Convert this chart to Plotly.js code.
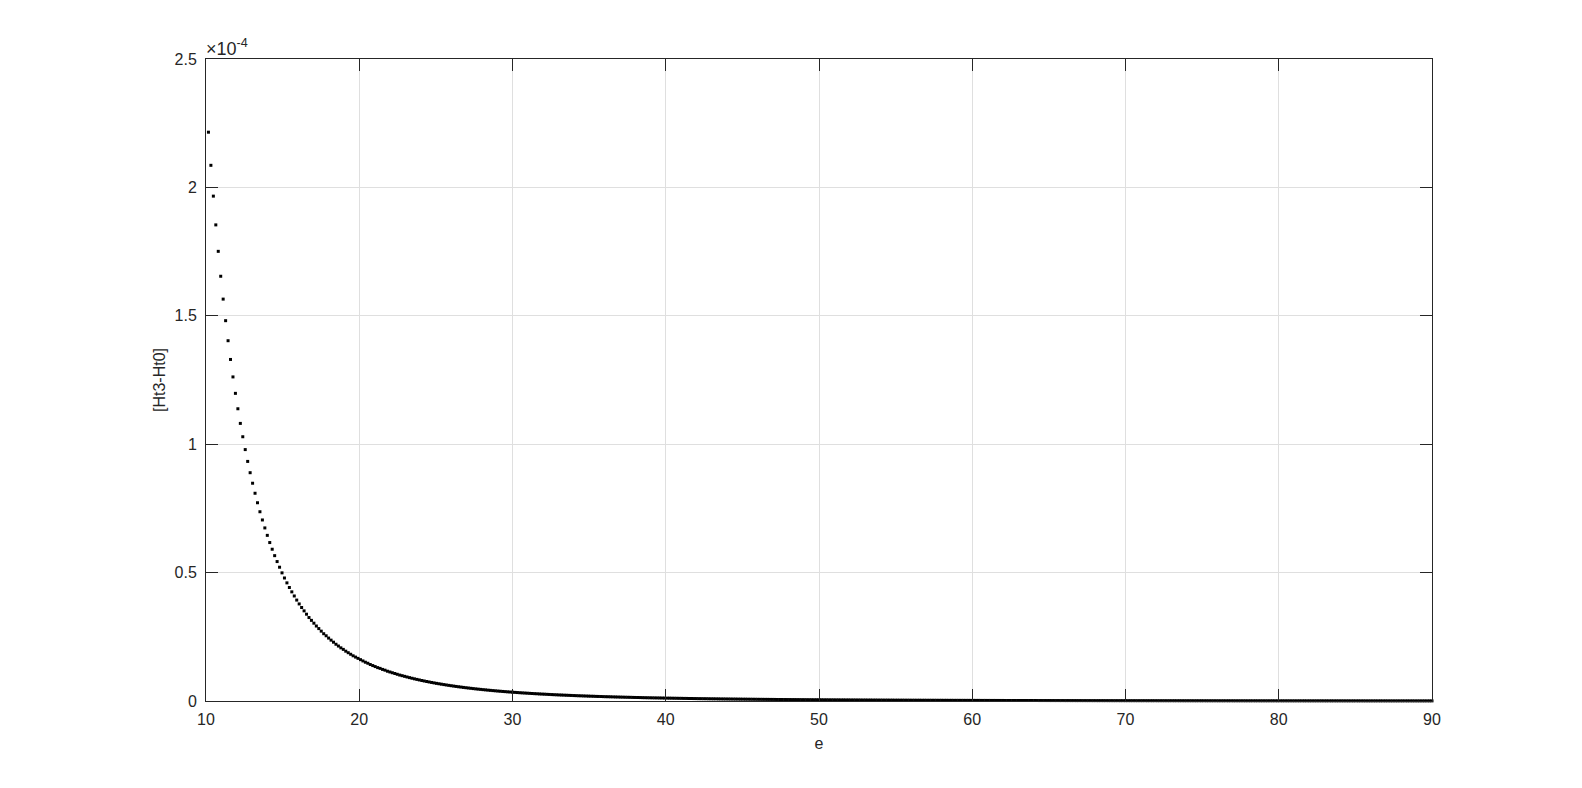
<!DOCTYPE html>
<html>
<head>
<meta charset="utf-8">
<script src="https://cdn.plot.ly/plotly-3.0.1.min.js"></script>
<style>
html,body{margin:0;padding:0;background:#fff;}
#chart{width:1582px;height:788px;}
</style>
</head>
<body>
<div id="chart"></div>
<script>
// e values (x)
var eValues = [
10.16,10.32,10.48,10.64,10.8,10.96,11.12,11.28,11.44,11.6,11.76,11.92,12.08,12.24,12.4,12.56,12.72,12.88,13.04,13.2,13.36,13.52,13.68,13.84,14,
14.16,14.32,14.48,14.64,14.8,14.96,15.12,15.28,15.44,15.6,15.76,15.92,16.08,16.24,16.4,16.56,16.72,16.88,17.04,17.2,17.36,17.52,17.68,17.84,18,
18.16,18.32,18.48,18.64,18.8,18.96,19.12,19.28,19.44,19.6,19.76,19.92,20.08,20.24,20.4,20.56,20.72,20.88,21.04,21.2,21.36,21.52,21.68,21.84,22,
22.16,22.32,22.48,22.64,22.8,22.96,23.12,23.28,23.44,23.6,23.76,23.92,24.08,24.24,24.4,24.56,24.72,24.88,25.04,25.2,25.36,25.52,25.68,25.84,26,
26.16,26.32,26.48,26.64,26.8,26.96,27.12,27.28,27.44,27.6,27.76,27.92,28.08,28.24,28.4,28.56,28.72,28.88,29.04,29.2,29.36,29.52,29.68,29.84,30,
30.16,30.32,30.48,30.64,30.8,30.96,31.12,31.28,31.44,31.6,31.76,31.92,32.08,32.24,32.4,32.56,32.72,32.88,33.04,33.2,33.36,33.52,33.68,33.84,34,
34.16,34.32,34.48,34.64,34.8,34.96,35.12,35.28,35.44,35.6,35.76,35.92,36.08,36.24,36.4,36.56,36.72,36.88,37.04,37.2,37.36,37.52,37.68,37.84,38,
38.16,38.32,38.48,38.64,38.8,38.96,39.12,39.28,39.44,39.6,39.76,39.92,40.08,40.24,40.4,40.56,40.72,40.88,41.04,41.2,41.36,41.52,41.68,41.84,42,
42.16,42.32,42.48,42.64,42.8,42.96,43.12,43.28,43.44,43.6,43.76,43.92,44.08,44.24,44.4,44.56,44.72,44.88,45.04,45.2,45.36,45.52,45.68,45.84,46,
46.16,46.32,46.48,46.64,46.8,46.96,47.12,47.28,47.44,47.6,47.76,47.92,48.08,48.24,48.4,48.56,48.72,48.88,49.04,49.2,49.36,49.52,49.68,49.84,50,
50.16,50.32,50.48,50.64,50.8,50.96,51.12,51.28,51.44,51.6,51.76,51.92,52.08,52.24,52.4,52.56,52.72,52.88,53.04,53.2,53.36,53.52,53.68,53.84,54,
54.16,54.32,54.48,54.64,54.8,54.96,55.12,55.28,55.44,55.6,55.76,55.92,56.08,56.24,56.4,56.56,56.72,56.88,57.04,57.2,57.36,57.52,57.68,57.84,58,
58.16,58.32,58.48,58.64,58.8,58.96,59.12,59.28,59.44,59.6,59.76,59.92,60.08,60.24,60.4,60.56,60.72,60.88,61.04,61.2,61.36,61.52,61.68,61.84,62,
62.16,62.32,62.48,62.64,62.8,62.96,63.12,63.28,63.44,63.6,63.76,63.92,64.08,64.24,64.4,64.56,64.72,64.88,65.04,65.2,65.36,65.52,65.68,65.84,66,
66.16,66.32,66.48,66.64,66.8,66.96,67.12,67.28,67.44,67.6,67.76,67.92,68.08,68.24,68.4,68.56,68.72,68.88,69.04,69.2,69.36,69.52,69.68,69.84,70,
70.16,70.32,70.48,70.64,70.8,70.96,71.12,71.28,71.44,71.6,71.76,71.92,72.08,72.24,72.4,72.56,72.72,72.88,73.04,73.2,73.36,73.52,73.68,73.84,74,
74.16,74.32,74.48,74.64,74.8,74.96,75.12,75.28,75.44,75.6,75.76,75.92,76.08,76.24,76.4,76.56,76.72,76.88,77.04,77.2,77.36,77.52,77.68,77.84,78,
78.16,78.32,78.48,78.64,78.8,78.96,79.12,79.28,79.44,79.6,79.76,79.92,80.08,80.24,80.4,80.56,80.72,80.88,81.04,81.2,81.36,81.52,81.68,81.84,82,
82.16,82.32,82.48,82.64,82.8,82.96,83.12,83.28,83.44,83.6,83.76,83.92,84.08,84.24,84.4,84.56,84.72,84.88,85.04,85.2,85.36,85.52,85.68,85.84,86,
86.16,86.32,86.48,86.64,86.8,86.96,87.12,87.28,87.44,87.6,87.76,87.92,88.08,88.24,88.4,88.56,88.72,88.88,89.04,89.2,89.36,89.52,89.68,89.84,90
];

// [Ht3-Ht0] values, in units of 1e-4
var htDiff = [
2.215,2.086,1.966,1.854,1.751,1.654,1.565,1.481,1.403,1.330,1.262,1.198,1.138,1.081,1.029,0.979,0.933,0.889,0.848,0.809,0.772,0.737,0.705,0.674,0.645,
0.617,0.591,0.566,0.543,0.521,0.499,0.479,0.460,0.442,0.425,0.409,0.393,0.378,0.364,0.351,0.338,0.325,0.314,0.303,0.292,0.282,0.272,0.262,0.254,0.245,
0.237,0.229,0.221,0.214,0.207,0.201,0.194,0.188,0.182,0.176,0.171,0.166,0.161,0.156,0.151,0.147,0.142,0.138,0.134,0.130,0.127,0.123,0.120,0.116,0.113,
0.110,0.107,0.104,0.101,0.0986,0.0960,0.0935,0.0910,0.0886,0.0863,0.0841,0.0820,0.0799,0.0779,0.0759,0.0741,0.0722,0.0705,0.0687,0.0671,0.0655,0.0639,0.0624,0.0609,0.0595,
0.0581,0.0567,0.0554,0.0542,0.0529,0.0517,0.0506,0.0494,0.0483,0.0472,0.0462,0.0452,0.0442,0.0433,0.0423,0.0414,0.0405,0.0397,0.0388,0.0380,0.0372,0.0365,0.0357,0.0350,0.0343,
0.0336,0.0329,0.0322,0.0316,0.0310,0.0304,0.0298,0.0292,0.0286,0.0281,0.0275,0.0270,0.0265,0.0260,0.0255,0.0250,0.0245,0.0241,0.0236,0.0232,0.0228,0.0224,0.0220,0.0216,0.0212,
0.0208,0.0204,0.0201,0.0197,0.0194,0.0190,0.0187,0.0184,0.0180,0.0177,0.0174,0.0171,0.0168,0.0166,0.0163,0.0160,0.0157,0.0155,0.0152,0.0150,0.0147,0.0145,0.0143,0.0140,0.0138,
0.0136,0.0134,0.0131,0.0129,0.0127,0.0125,0.0123,0.0121,0.0120,0.0118,0.0116,0.0114,0.0112,0.0111,0.0109,0.0107,0.0106,0.0104,0.0103,0.0101,0.0100,0.0098,0.0097,0.0095,0.0094,
0.0092,0.0091,0.0090,0.0089,0.0087,0.0086,0.0085,0.0084,0.0082,0.0081,0.0080,0.0079,0.0078,0.0077,0.0076,0.0075,0.0074,0.0073,0.0072,0.0071,0.0070,0.0069,0.0068,0.0067,0.0066,
0.00652,0.00643,0.00635,0.00627,0.00619,0.00611,0.00603,0.00595,0.00587,0.00580,0.00572,0.00565,0.00558,0.00551,0.00544,0.00537,0.00530,0.00523,0.00517,0.00510,0.00504,0.00498,0.00491,0.00485,0.00479,
0.00474,0.00468,0.00462,0.00457,0.00451,0.00446,0.00440,0.00435,0.00430,0.00425,0.00420,0.00415,0.00410,0.00405,0.00400,0.00396,0.00391,0.00386,0.00382,0.00378,0.00373,0.00369,0.00365,0.00361,0.00356,
0.00352,0.00348,0.00345,0.00341,0.00337,0.00333,0.00329,0.00326,0.00322,0.00319,0.00315,0.00312,0.00308,0.00305,0.00302,0.00298,0.00295,0.00292,0.00289,0.00286,0.00283,0.00280,0.00277,0.00274,0.00271,
0.00268,0.00265,0.00262,0.00260,0.00257,0.00254,0.00252,0.00249,0.00246,0.00244,0.00241,0.00239,0.00236,0.00234,0.00232,0.00229,0.00227,0.00225,0.00222,0.00220,0.00218,0.00216,0.00214,0.00212,0.00210,
0.00207,0.00205,0.00203,0.00202,0.00200,0.00198,0.00196,0.00194,0.00192,0.00190,0.00188,0.00187,0.00185,0.00183,0.00181,0.00180,0.00178,0.00176,0.00175,0.00173,0.00171,0.00170,0.00168,0.00166,0.00165,
0.00163,0.00162,0.00160,0.00159,0.00157,0.00156,0.00155,0.00153,0.00152,0.00150,0.00149,0.00148,0.00146,0.00145,0.00144,0.00143,0.00141,0.00140,0.00139,0.00138,0.00136,0.00135,0.00134,0.00133,0.00131,
0.00130,0.00129,0.00128,0.00127,0.00126,0.00125,0.00124,0.00123,0.00122,0.00121,0.00120,0.00119,0.00118,0.00117,0.00116,0.00115,0.00114,0.00113,0.00112,0.00111,0.00110,0.00109,0.00108,0.00107,0.00106,
0.00105,0.00104,0.00103,0.00103,0.00102,0.00101,0.00100,0.00099,0.00099,0.00098,0.00097,0.00096,0.00095,0.00095,0.00094,0.00093,0.00092,0.00092,0.00091,0.00090,0.00090,0.00089,0.00088,0.00087,0.00087,
0.00086,0.00085,0.00085,0.00084,0.00083,0.00083,0.00082,0.00081,0.00081,0.00080,0.00080,0.00079,0.00078,0.00078,0.00077,0.00077,0.00076,0.00075,0.00075,0.00074,0.00074,0.00073,0.00073,0.00072,0.00072,
0.00071,0.00070,0.00070,0.00069,0.00069,0.00068,0.00068,0.00067,0.00067,0.00066,0.00066,0.00065,0.00065,0.00064,0.00064,0.00064,0.00063,0.00063,0.00062,0.00062,0.00061,0.00061,0.00060,0.00060,0.00059,
0.00059,0.00059,0.00058,0.00058,0.00057,0.00057,0.00057,0.00056,0.00056,0.00055,0.00055,0.00055,0.00054,0.00054,0.00054,0.00053,0.00053,0.00052,0.00052,0.00052,0.00051,0.00051,0.00051,0.00050,0.00050
];

var xTickVals = [10, 20, 30, 40, 50, 60, 70, 80, 90];
var yTickVals = [0, 0.5, 1, 1.5, 2, 2.5];
var yTickText = ['0', '0.5', '1', '1.5', '2', '2.5'];
var xLabel = 'e';
var yLabel = '[Ht3-Ht0]';
var exponentLabel = '\u00d710<sup>-4</sup>';

var axisColor = '#262626';
var gridColor = '#dfdfdf';
var fontFamily = 'Liberation Sans, Arial, Helvetica, sans-serif';

var trace = {
  x: eValues,
  y: htDiff,
  type: 'scatter',
  mode: 'markers',
  marker: {symbol: 'square', size: 3, color: '#000000', line: {width: 0}},
  cliponaxis: false,
  hoverinfo: 'x+y'
};

var commonAxis = {
  showline: true,
  linecolor: axisColor,
  linewidth: 1,
  mirror: 'ticks',
  ticks: 'inside',
  ticklen: 12,
  tickwidth: 1,
  tickcolor: axisColor,
  showgrid: true,
  gridcolor: gridColor,
  gridwidth: 1,
  zeroline: false,
  tickfont: {family: fontFamily, size: 16, color: axisColor},
  automargin: false
};

var layout = {
  width: 1582,
  height: 788,
  margin: {l: 206, r: 150, t: 59, b: 87, pad: 0},
  paper_bgcolor: '#ffffff',
  plot_bgcolor: '#ffffff',
  showlegend: false,
  font: {family: fontFamily, color: axisColor},
  xaxis: Object.assign({}, commonAxis, {
    range: [10, 90],
    tickmode: 'array',
    tickvals: xTickVals,
    ticktext: xTickVals.map(String),
    ticklabelstandoff: 4,
    title: {text: xLabel, font: {family: fontFamily, size: 16, color: axisColor}, standoff: 10}
  }),
  yaxis: Object.assign({}, commonAxis, {
    range: [0, 2.5],
    tickmode: 'array',
    tickvals: yTickVals,
    ticktext: yTickText,
    ticklabelstandoff: 5,
    title: {text: yLabel, font: {family: fontFamily, size: 16, color: axisColor}, standoff: 4}
  }),
  annotations: [{
    xref: 'paper', yref: 'paper',
    x: 0, y: 1,
    xanchor: 'left', yanchor: 'bottom',
    xshift: -2, yshift: -2,
    showarrow: false,
    text: exponentLabel,
    font: {family: fontFamily, size: 18, color: axisColor}
  }]
};

Plotly.newPlot('chart', [trace], layout, {displayModeBar: false, staticPlot: true});
</script>
</body>
</html>
